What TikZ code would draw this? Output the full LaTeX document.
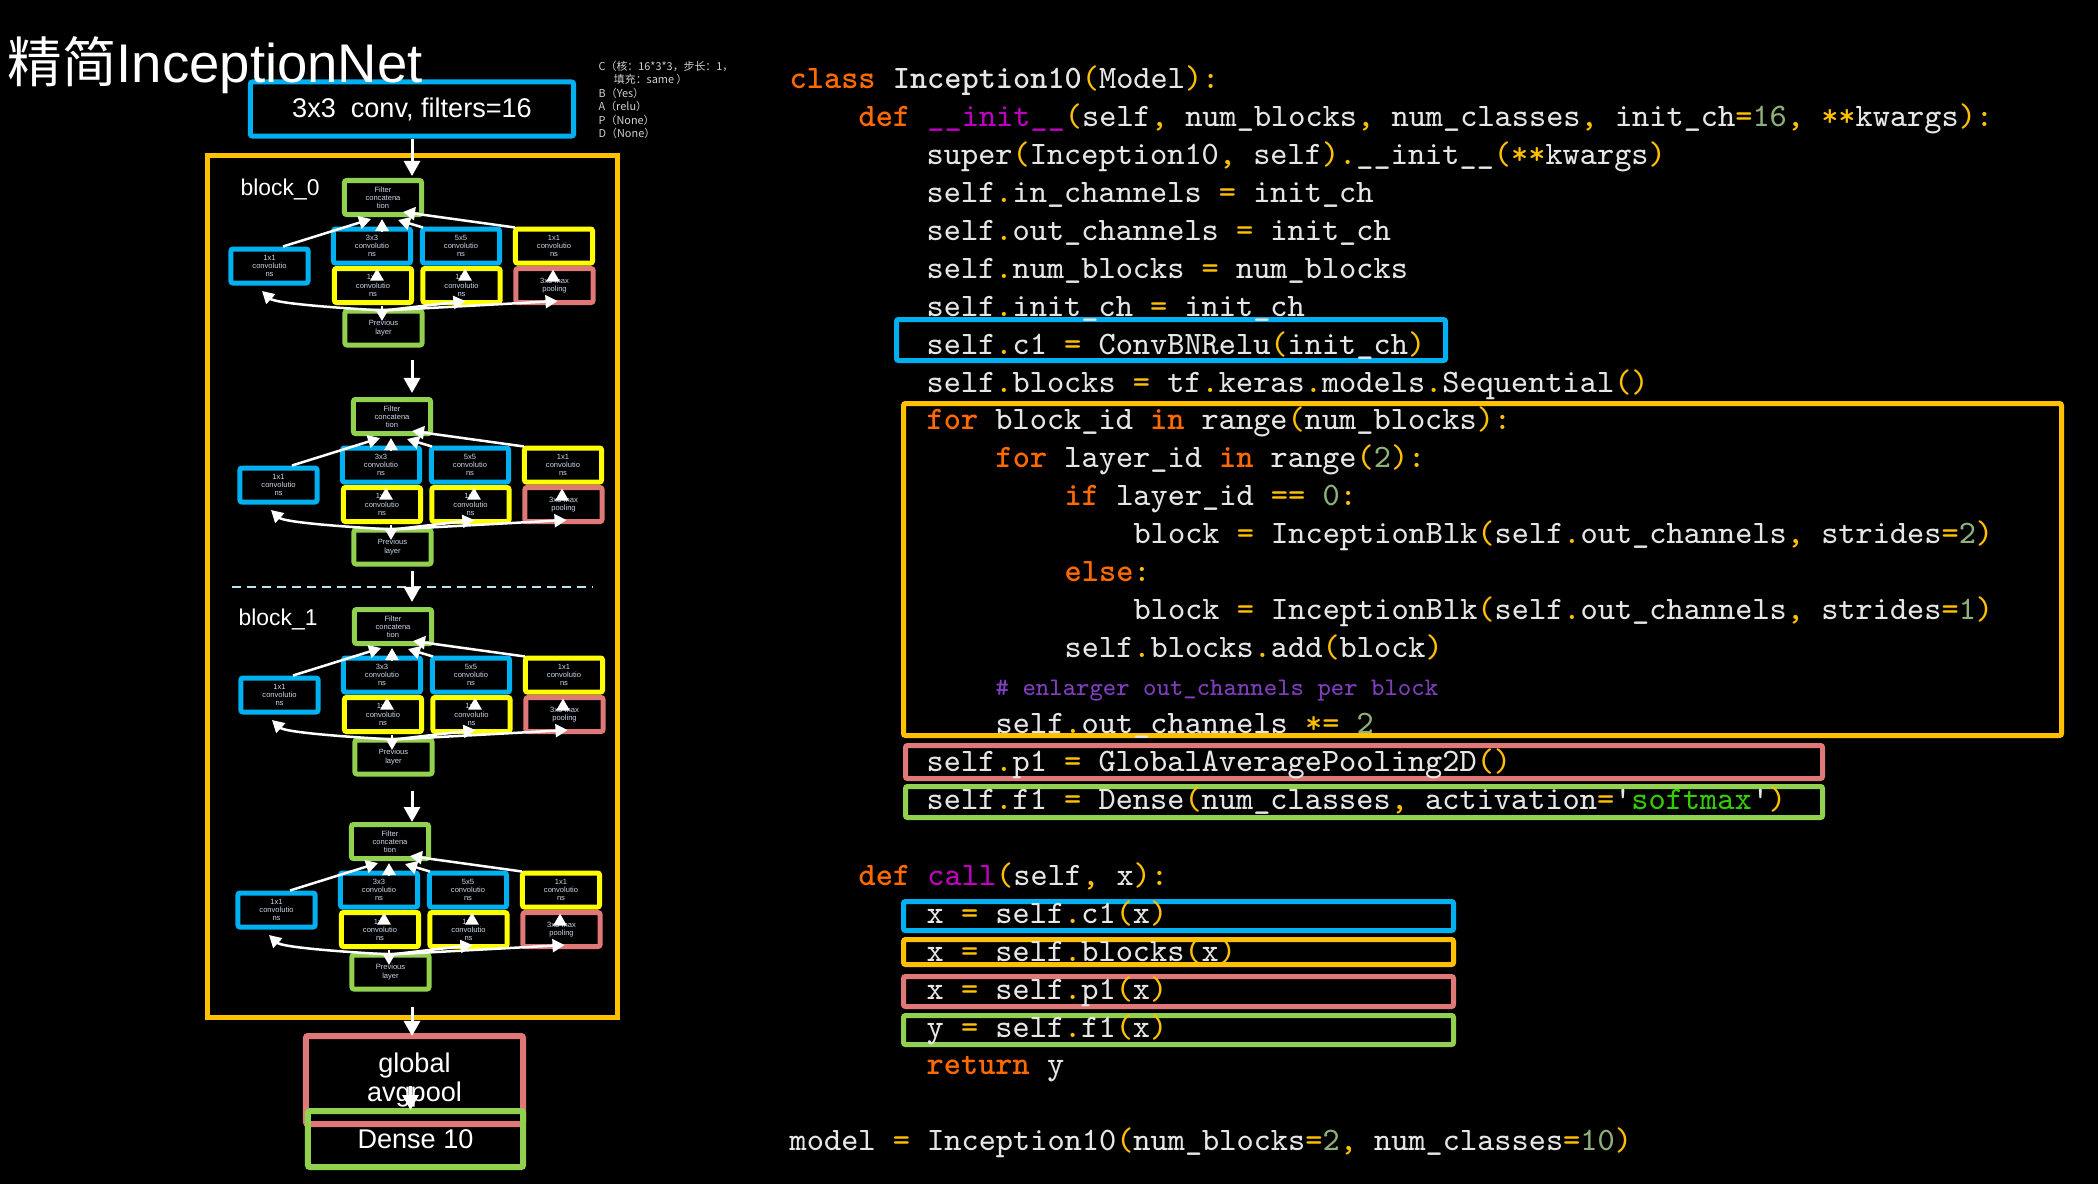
\documentclass[tikz,border=0pt]{standalone}
\usepackage{fontspec}
\setmainfont{Liberation Sans}
\newfontfamily\cjk{Noto Sans CJK SC}
\usetikzlibrary{arrows.meta, calc}

\definecolor{cblue}{HTML}{00B0F0}
\definecolor{corange}{HTML}{FFC000}
\definecolor{cpink}{HTML}{E07878}
\definecolor{cgreen}{HTML}{92D050}
\definecolor{cyellow}{HTML}{FFFF00}
\definecolor{modtext}{HTML}{C9D6EA}
\definecolor{dashc}{HTML}{BFE3EE}
\definecolor{notec}{HTML}{D0D0D0}
\definecolor{codetext}{HTML}{E6E6E6}
\definecolor{kwc}{HTML}{FF6A00}
\definecolor{pncc}{HTML}{FFC000}
\definecolor{nmbc}{HTML}{8FB07A}
\definecolor{fncc}{HTML}{C000C0}
\definecolor{strc}{HTML}{33CC00}
\definecolor{cmtc}{HTML}{7F3FBF}

\newcommand{\kwd}[1]{\textcolor{kwc}{\textbf{#1}}}
\newcommand{\pnc}[1]{\textcolor{pncc}{#1}}
\newcommand{\nmb}[1]{\textcolor{nmbc}{#1}}
\newcommand{\fnc}[1]{\textcolor{fncc}{#1}}
\newcommand{\strg}[1]{\textcolor{strc}{#1}}

\begin{document}
\begin{tikzpicture}[
    x=0.01cm, y=-0.01cm,
    mod/.style={draw, line width=0.05cm, rounded corners=0.02cm, minimum width=0.77cm, minimum height=0.34cm,
        inner sep=0pt, align=center, text=modtext, font=\fontsize{2.15}{2.3}\selectfont},
    big/.style={draw, line width=0.06cm, rounded corners=0.02cm, inner sep=0pt, align=center, text=white,
        font=\fontsize{7.7}{8.5}\selectfont},
    arr/.style={white, line width=0.025cm, -{Triangle[length=0.12cm, width=0.13cm]}},
    bigarr/.style={white, line width=0.03cm, -{Triangle[length=0.15cm, width=0.16cm]}},
    code/.style={anchor=base west, inner sep=0pt, text=codetext, font=\ttfamily\fontsize{9.31}{11}\selectfont},
    hl/.style={line width=0.05cm, rounded corners=0.02cm}
]
    \fill[black] (0,0) rectangle (2098,1184);
    \useasboundingbox (0,0) rectangle (2098,1184);
    \coordinate (spine) at (412,0);

    % Left: network
    \node[big, draw=cblue, line width=0.05cm, minimum width=3.23cm, minimum height=0.54cm] (conv) at (412,109) {3x3~ conv, filters=16};
    \node[anchor=base west, inner sep=0pt, text=white, font=\fontsize{15.5}{18}\selectfont] (title) at (7,82) {{\cjk 精简}InceptionNet};
    \node[anchor=north west, inner sep=0pt, align=left, text=notec, font=\cjk\fontsize{3.1}{3.84}\selectfont] (note) at (598,60)
        {C（核：16*3*3，步长：1，\\\hspace*{1.4em}填充：same ）\\B（Yes）\\A（relu）\\P（None）\\D（None）};

    \draw[corange, line width=0.05cm] (207.5,155.5) rectangle (617.5,1017.5);
    \node[anchor=base west, inner sep=0pt, text=white, font=\fontsize{6.5}{7}\selectfont] (lbl0) at (240,195) {block\_0};
    \node[anchor=base west, inner sep=0pt, text=white, font=\fontsize{6.5}{7}\selectfont] (lbl1) at (238,625) {block\_1};
    \draw[dashc, line width=0.02cm, dash pattern=on 0.09cm off 0.06cm] (232,587) -- (593,587);

    % Inception blocks
    \foreach \ox/\oy/\k in {343/178/1, 352/397/2, 353/607/3, 350/822/4} {
        \node[mod, draw=cgreen] (fc\k) at ({\ox+40},{\oy+19.5}) {Filter\\concatena\\tion};
        \node[mod, draw=cblue] (c3\k) at ({\ox+29},{\oy+68}) {3x3\\convolutio\\ns};
        \node[mod, draw=cblue] (c5\k) at ({\ox+118},{\oy+68}) {5x5\\convolutio\\ns};
        \node[mod, draw=cyellow] (r1\k) at ({\ox+211},{\oy+68}) {1x1\\convolutio\\ns};
        \node[mod, draw=cblue] (l1\k) at ({\ox-73.5},{\oy+88}) {1x1\\convolutio\\ns};
        \node[mod, draw=cyellow] (y3\k) at ({\ox+30},{\oy+107.5}) {1x1\\convolutio\\ns};
        \node[mod, draw=cyellow] (y5\k) at ({\ox+118.5},{\oy+107.5}) {1x1\\convolutio\\ns};
        \node[mod, draw=cpink] (mp\k) at ({\ox+211.5},{\oy+107.5}) {3x3 max\\pooling};
        \node[mod, draw=cgreen] (pv\k) at ({\ox+40.5},{\oy+150}) {Previous\\layer};

        \draw[arr] ($(pv\k.north)+(0,2)$) .. controls +(-55,-3) and +(13,12) .. ($(l1\k.south)+(-7.5,5.5)$);
        \draw[arr] ($(pv\k.north)+(0,2)$) -- ($(y5\k.south)+(4,-4)$);
        \draw[arr] ($(pv\k.north)+(0,2)$) -- ($(mp\k.south)+(3,-4)$);
        \draw[arr] ($(y3\k.south)+(9,1)$) -- ($(pv\k.north)+(-1.5,12.5)$);
        \draw[arr] ($(y3\k.north)+(4,12)$) -- ($(c3\k.south)+(5,3)$);
        \draw[arr] ($(y5\k.north)+(3.5,12)$) -- ($(c5\k.south)+(4,3)$);
        \draw[arr] ($(mp\k.north)+(-1.5,12)$) -- ($(r1\k.south)+(-1,4)$);
        \draw[arr] ($(l1\k.north)+(13.5,0)$) -- ($(fc\k.south)+(-12,2)$);
        \draw[arr] ($(c3\k.north)+(10,5)$) -- ($(fc\k.south)+(-1,2)$);
        \draw[arr] ($(c5\k.north west)+(3,1)$) -- ($(fc\k.south)+(15,3)$);
        \draw[arr] ($(r1\k.north west)+(2,1)$) -- ($(fc\k.south)+(20,-5)$);
    }

    \node[big, draw=cpink, minimum width=2.17cm, minimum height=0.88cm] (pool) at (414.5,1080) {global\\avgpool};
    \node[big, draw=cgreen, minimum width=2.15cm, minimum height=0.56cm] (dense) at (415.5,1139) {Dense 10};

    % Main arrows
    \draw[bigarr] (conv.south) -- ($(spine |- fc1.north)+(0,-2)$);
    \draw[bigarr] ($(spine |- pv1.south)+(0,12)$) -- ($(spine |- fc2.north)+(0,-4)$);
    \draw[bigarr] ($(spine |- pv2.south)+(0,4)$) -- ($(spine |- fc3.north)+(0,-5)$);
    \draw[bigarr] ($(spine |- pv3.south)+(0,14)$) -- (spine |- fc4.north);
    \draw[bigarr] ($(spine |- pool.north)+(0,-26)$) -- ($(spine |- pool.north)+(0,3)$);
    \draw[bigarr] ($(dense.north)+(-5,-22)$) -- ($(dense.north)+(-5,2)$);

    % Right: code
    \draw[hl, cblue] (896.5,319.5) rectangle (1445.5,360.5);
    \draw[hl, corange] (903.5,403.5) rectangle (2061.5,735.5);
    \draw[hl, cpink] (905.5,745.5) rectangle (1822.5,778.5);
    \draw[hl, cgreen] (905.5,786.5) rectangle (1822.5,817.5);
    \draw[hl, cblue] (903.5,901.5) rectangle (1453.5,930.5);
    \draw[hl, corange] (903.5,939.5) rectangle (1453.5,964.5);
    \draw[hl, cpink] (903.5,976.5) rectangle (1453.5,1006.5);
    \draw[hl, cgreen] (903.5,1015.5) rectangle (1453.5,1044.5);

    \node[code] (cl0) at (789,88) {\kwd{class} \textbf{Inception10}\pnc{(}Model\pnc{):}};
    \node[code] (cl1) at (858,126) {\kwd{def} \fnc{\_\_init\_\_}\pnc{(}self\pnc{,} num\_blocks\pnc{,} num\_classes\pnc{,} init\_ch\pnc{=}\nmb{16}\pnc{,} \pnc{**}kwargs\pnc{):}};
    \node[code] (cl2) at (926,164) {super\pnc{(}Inception10\pnc{,} self\pnc{).}\_\_init\_\_\pnc{(**}kwargs\pnc{)}};
    \node[code] (cl3) at (926,202) {self\pnc{.}in\_channels \pnc{=} init\_ch};
    \node[code] (cl4) at (926,240) {self\pnc{.}out\_channels \pnc{=} init\_ch};
    \node[code] (cl5) at (926,278) {self\pnc{.}num\_blocks \pnc{=} num\_blocks};
    \node[code] (cl6) at (926,316) {self\pnc{.}init\_ch \pnc{=} init\_ch};
    \node[code] (cl7) at (926,354) {self\pnc{.}c1 \pnc{=} ConvBNRelu\pnc{(}init\_ch\pnc{)}};
    \node[code] (cl8) at (926,392) {self\pnc{.}blocks \pnc{=} tf\pnc{.}keras\pnc{.}models\pnc{.}Sequential\pnc{()}};
    \node[code] (cl9) at (926,429) {\kwd{for} block\_id \kwd{in} range\pnc{(}num\_blocks\pnc{):}};
    \node[code] (cl10) at (995,467) {\kwd{for} layer\_id \kwd{in} range\pnc{(}\nmb{2}\pnc{):}};
    \node[code] (cl11) at (1064,505) {\kwd{if} layer\_id \pnc{==} \nmb{0}\pnc{:}};
    \node[code] (cl12) at (1133,543) {block \pnc{=} InceptionBlk\pnc{(}self\pnc{.}out\_channels\pnc{,} strides\pnc{=}\nmb{2}\pnc{)}};
    \node[code] (cl13) at (1064,581) {\kwd{else}\pnc{:}};
    \node[code] (cl14) at (1133,619) {block \pnc{=} InceptionBlk\pnc{(}self\pnc{.}out\_channels\pnc{,} strides\pnc{=}\nmb{1}\pnc{)}};
    \node[code] (cl15) at (1064,657) {self\pnc{.}blocks\pnc{.}add\pnc{(}block\pnc{)}};
    \node[code, text=cmtc, font=\ttfamily\fontsize{7.18}{8}\selectfont] (cl16) at (995,695) {\# enlarger out\_channels per block};
    \node[code] (cl17) at (995,733) {self\pnc{.}out\_channels \pnc{*=} \nmb{2}};
    \node[code] (cl18) at (926,771) {self\pnc{.}p1 \pnc{=} GlobalAveragePooling2D\pnc{()}};
    \node[code] (cl19) at (926,809) {self\pnc{.}f1 \pnc{=} Dense\pnc{(}num\_classes\pnc{,} activation\pnc{=}'\strg{softmax}'\pnc{)}};
    \node[code] (cl21) at (858,885) {\kwd{def} \fnc{call}\pnc{(}self\pnc{,} x\pnc{):}};
    \node[code] (cl22) at (926,923) {x \pnc{=} self\pnc{.}c1\pnc{(}x\pnc{)}};
    \node[code] (cl23) at (926,961) {x \pnc{=} self\pnc{.}blocks\pnc{(}x\pnc{)}};
    \node[code] (cl24) at (926,999) {x \pnc{=} self\pnc{.}p1\pnc{(}x\pnc{)}};
    \node[code] (cl25) at (926,1037) {y \pnc{=} self\pnc{.}f1\pnc{(}x\pnc{)}};
    \node[code] (cl26) at (926,1074) {\kwd{return} y};
    \node[code] (cl28) at (789,1150) {model \pnc{=} Inception10\pnc{(}num\_blocks\pnc{=}\nmb{2}\pnc{,} num\_classes\pnc{=}\nmb{10}\pnc{)}};
\end{tikzpicture}
\end{document}
